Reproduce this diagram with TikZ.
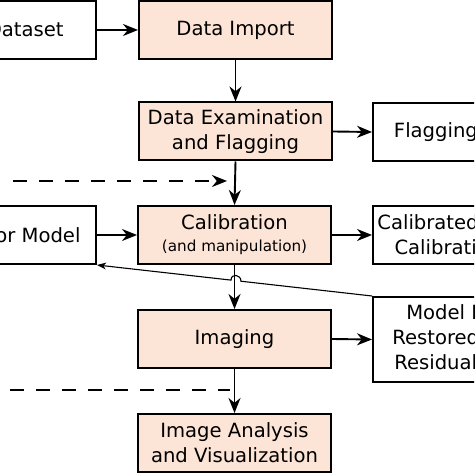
\documentclass[tikz,border=0pt]{standalone}
\usepackage{fontspec}
\setmainfont{DejaVu Sans}
\usetikzlibrary{arrows.meta,calc}

\definecolor{peach}{RGB}{252,228,214}

\begin{document}
\begin{tikzpicture} [
            x=0.5pt,
            y=-0.5pt,
            box/.style = {draw,line width=1pt,minimum width=96.5pt,minimum height=29pt,
                inner sep=0pt,align=center,font=\fontsize{9.8}{12.5}\selectfont},
            process box/.style = {box, fill=peach},
            flow/.style = {draw,line width=0.95pt,-{Stealth[length=7.5pt,width=6pt,inset=2.4pt]}},
            side flow/.style = {draw,line width=1pt,dash pattern=on 7pt off 6pt},
            feedback/.style = {draw,line width=0.55pt,-{Stealth[length=4.5pt,width=3.4pt,inset=1.3pt]}}
        ]
        \useasboundingbox (0,0) rectangle (474,474);
        \clip (0,0) rectangle (474,474);
        % First we draw the processing steps
        \foreach \pos/\name/\txt in {
                {(235.5,30)/imp/Data Import},
                {(235.5,131.5)/exam/Data Examination\\and Flagging},
                {(234.5,235)/cal/Calibration\\[-1.5pt]{\fontsize{7.6}{8}\selectfont(and manipulation)}},
                {(234.5,339)/img/Imaging},
                {(234.5,443)/ana/Image Analysis\\and Visualization}}
            \node[process box] (\name) at \pos {\txt};
        % inputs and products
        \foreach \pos/\name/\txt in {
                {(-0.5,30)/raw/\hspace*{2pt}Raw Dataset},
                {(-0.5,235)/cmod/Calibrator Model},
                {(469.5,132)/flag/Flagging Tables},
                {(469.5,235)/cald/Calibrated Dataset\\Calibration Info}}
            \node[box] (\name) at \pos {\txt};
        \node[box,minimum height=42.5pt] (mod) at (469.5,339.5) {Model Image\\Restored Image\\Residual Image};
        % Connect the steps with arrows
        \foreach \source/ \dest in {imp/exam, exam/cal, cal/img, img/ana}
            \path[flow] (\source.south) -- (\dest.north);
        \foreach \source/ \dest in {raw/imp, exam/flag, cmod/cal, cal/cald, img/mod}
            \path[flow] (\source.east) -- (\dest.west);
        % dashed side inputs
        \coordinate (dashA) at (13,181);
        \coordinate (dashAend) at (227,181);
        \coordinate (dashB) at (10,390);
        \coordinate (dashBend) at (230,390);
        \path[side flow,-{Stealth[length=7.5pt,width=6pt,inset=2.4pt]}] (dashA) -- (dashAend);
        \path[side flow] (dashB) -- (dashBend);
        % model fed back, hopping over the flow line
        \coordinate (hopR) at ($(cmod.south east)!0.5235!(mod.north west)$);
        \coordinate (hopL) at ($(cmod.south east)!0.4874!(mod.north west)$);
        \path[feedback] (mod.north west) -- (hopR)
            .. controls ($(hopR)+(0,-7)$) and ($(hopL)+(0,-7)$) .. (hopL)
            -- (cmod.south east);
    \end{tikzpicture}
\end{document}
